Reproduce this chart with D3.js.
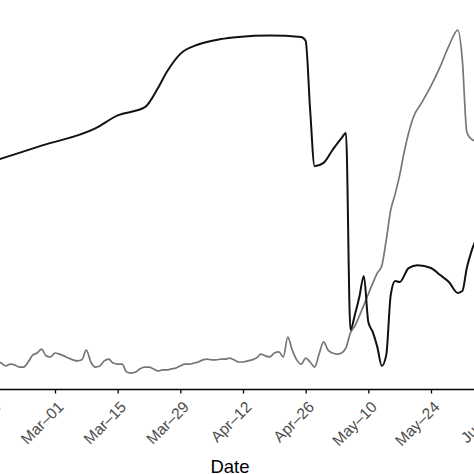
<!DOCTYPE html>
<html>
<head>
<meta charset="utf-8">
<script src="https://cdn.jsdelivr.net/npm/d3@7"></script>
<style>
  html, body { margin: 0; padding: 0; background: #fff; }
  svg { display: block; }
</style>
</head>
<body>
<div id="chart"></div>
<script>
// tick positions on the date axis (every two weeks)
const tickDates = ["2020-02-16", "2020-03-01", "2020-03-15", "2020-03-29", "2020-04-12",
  "2020-04-26", "2020-05-10", "2020-05-24", "2020-06-07"];

// black series
const blackDates = ["2020-02-17", "2020-02-27", "2020-03-10", "2020-03-15", "2020-03-21",
  "2020-03-24", "2020-03-26", "2020-03-29", "2020-04-02", "2020-04-07", "2020-04-11",
  "2020-04-18", "2020-04-25", "2020-04-26", "2020-04-27", "2020-04-28", "2020-04-30",
  "2020-05-02", "2020-05-04", "2020-05-05", "2020-05-06", "2020-05-07", "2020-05-08",
  "2020-05-09", "2020-05-10", "2020-05-11", "2020-05-12", "2020-05-13", "2020-05-14",
  "2020-05-15", "2020-05-16", "2020-05-17", "2020-05-19", "2020-05-21", "2020-05-24",
  "2020-05-26", "2020-05-28", "2020-05-30", "2020-05-31", "2020-06-01", "2020-06-02",
  "2020-06-03"];
const blackValues = [63.6, 67.6, 72.4, 76.0, 78.2,
  83.6, 88.1, 93.1, 95.7, 97.2, 97.8,
  98.2, 97.8, 96.7, 77.5, 61.9, 62.8,
  66.4, 69.7, 71.1, 16.4, 20.6, 25.6,
  31.4, 18.6, 15.8, 11.7, 6.4, 9.4,
  26.1, 30.0, 29.7, 33.6, 34.4, 33.6,
  31.7, 29.7, 26.7, 27.2, 33.6, 38.1,
  41.4];

// grey series
const grayDates = ["2020-02-17", "2020-02-18", "2020-02-19", "2020-02-20", "2020-02-21",
  "2020-02-22", "2020-02-23", "2020-02-24", "2020-02-25", "2020-02-26", "2020-02-27",
  "2020-02-28", "2020-02-29", "2020-03-01", "2020-03-02", "2020-03-03", "2020-03-04",
  "2020-03-05", "2020-03-06", "2020-03-07", "2020-03-08", "2020-03-09", "2020-03-10",
  "2020-03-11", "2020-03-12", "2020-03-13", "2020-03-14", "2020-03-15", "2020-03-16",
  "2020-03-17", "2020-03-18", "2020-03-19", "2020-03-20", "2020-03-21", "2020-03-22",
  "2020-03-23", "2020-03-24", "2020-03-25", "2020-03-26", "2020-03-27", "2020-03-28",
  "2020-03-29", "2020-03-30", "2020-03-31", "2020-04-01", "2020-04-02", "2020-04-03",
  "2020-04-04", "2020-04-05", "2020-04-06", "2020-04-07", "2020-04-08", "2020-04-09",
  "2020-04-10", "2020-04-11", "2020-04-12", "2020-04-13", "2020-04-14", "2020-04-15",
  "2020-04-16", "2020-04-17", "2020-04-18", "2020-04-19", "2020-04-20", "2020-04-21",
  "2020-04-22", "2020-04-23", "2020-04-24", "2020-04-25", "2020-04-26", "2020-04-27",
  "2020-04-28", "2020-04-29", "2020-04-30", "2020-05-01", "2020-05-02", "2020-05-03",
  "2020-05-04", "2020-05-05", "2020-05-06", "2020-05-07", "2020-05-08", "2020-05-09",
  "2020-05-10", "2020-05-11", "2020-05-12", "2020-05-13", "2020-05-14", "2020-05-15",
  "2020-05-16", "2020-05-17", "2020-05-18", "2020-05-19", "2020-05-20", "2020-05-22",
  "2020-05-24", "2020-05-26", "2020-05-28", "2020-05-30", "2020-05-31", "2020-06-01",
  "2020-06-02", "2020-06-03"];
const grayValues = [7.8, 7.2, 6.4, 6.9, 6.7,
  6.1, 6.1, 7.5, 9.4, 10.0, 11.1,
  9.2, 8.9, 10.0, 9.7, 9.2, 8.6,
  8.1, 7.8, 8.1, 10.8, 7.5, 6.1,
  6.4, 7.8, 8.3, 7.2, 6.9, 6.9,
  4.7, 4.4, 4.7, 5.6, 6.1, 6.1,
  5.6, 5.0, 5.3, 5.3, 5.6, 5.8,
  6.4, 6.9, 6.9, 7.2, 7.5, 8.1,
  8.3, 8.1, 8.1, 8.3, 8.3, 8.6,
  8.1, 7.5, 7.5, 7.8, 8.1, 8.6,
  9.7, 9.2, 8.9, 10.0, 10.3, 8.9,
  14.4, 10.8, 8.1, 6.9, 8.6, 7.5,
  6.1, 9.7, 13.1, 10.8, 10.0, 9.7,
  10.0, 11.4, 15.6, 17.5, 20.3, 23.3,
  26.4, 29.4, 32.2, 34.2, 41.4, 49.7,
  54.2, 59.4, 65.8, 71.1, 75.3, 79.7,
  84.2, 89.4, 95.3, 99.7, 91.4, 71.4,
  69.4, 68.9];

const width = 474, height = 474;
const axisY = 389.5;
const parse = d3.utcParse("%Y-%m-%d");
const fmt = d3.utcFormat("%b\u2013%d");

const svg = d3.select("#chart").append("svg")
  .attr("width", width)
  .attr("height", height);

const x = d3.scaleUtc()
  .domain([parse("2020-03-01"), parse("2020-05-24")])
  .range([55, 431]);
const y = d3.scaleLinear().domain([0, 100]).range([389, 29]);

const line = d3.line()
  .x(d => x(d[0]))
  .y(d => y(d[1]))
  .curve(d3.curveMonotoneX);

const grayData = grayDates.map((d, i) => [parse(d), grayValues[i]]);
const blackData = blackDates.map((d, i) => [parse(d), blackValues[i]]);

svg.append("path").datum(grayData)
  .attr("fill", "none")
  .attr("stroke", "#767676")
  .attr("stroke-width", 1.7)
  .attr("stroke-linejoin", "round")
  .attr("d", line);

svg.append("path").datum(blackData)
  .attr("fill", "none")
  .attr("stroke", "#111")
  .attr("stroke-width", 2)
  .attr("stroke-linejoin", "round")
  .attr("d", line);

// x axis
const axis = svg.append("g")
  .attr("transform", "translate(0," + axisY + ")")
  .call(d3.axisBottom(x)
    .tickValues(tickDates.map(parse))
    .tickFormat(fmt)
    .tickSize(4)
    .tickSizeOuter(0));

axis.select(".domain").remove();
axis.append("line")
  .attr("x1", 0).attr("x2", width)
  .attr("stroke", "#000")
  .attr("stroke-width", 1.5);
axis.selectAll(".tick line").attr("stroke", "#000").attr("stroke-width", 1.3);
axis.selectAll(".tick text")
  .attr("x", 0).attr("y", 0).attr("dy", null)
  .attr("transform", "translate(9,18.5) rotate(-45)")
  .style("text-anchor", "end")
  .style("font-family", "'Liberation Sans', Arial, sans-serif")
  .style("font-size", "15.5px")
  .attr("fill", "#4d4d4d");

svg.append("text")
  .attr("x", 230)
  .attr("y", 473)
  .attr("text-anchor", "middle")
  .style("font-family", "'Liberation Sans', Arial, sans-serif")
  .style("font-size", "18.5px")
  .attr("fill", "#000")
  .text("Date");
</script>
</body>
</html>
